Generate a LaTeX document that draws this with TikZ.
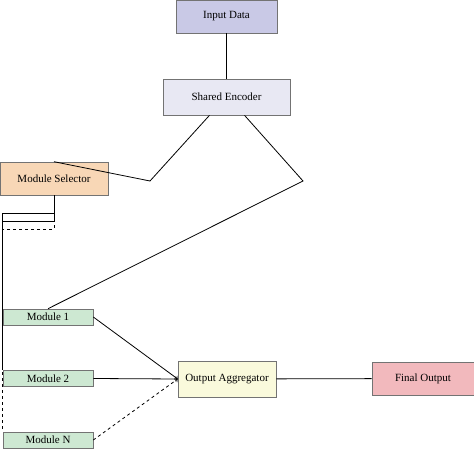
\documentclass[tikz,border=0pt]{standalone}
\usepackage{fontspec}
\setmainfont{Liberation Serif}
\usetikzlibrary{positioning}
\definecolor{inputblue}{HTML}{C9C9E6}
\definecolor{encgray}{HTML}{E8E8F3}
\definecolor{selpeach}{HTML}{F8D7B6}
\definecolor{modgreen}{HTML}{CDE8D2}
\definecolor{aggyellow}{HTML}{FAFADC}
\definecolor{finalpink}{HTML}{F2B9BD}
\begin{document}
\begin{tikzpicture}[x=1pt, y=-1pt, line width=0.8pt,
  every node/.style={font=\fontsize{11}{13}\selectfont},
  blk/.style={draw=black!55, line width=0.6pt, inner sep=0pt}]
\useasboundingbox (0,0) rectangle (474,449);

% Define the main blocks
\node[blk, fill=inputblue, minimum width=101pt, minimum height=33pt] (input) at (226.5, 16.5) {Input Data};
\node[blk, fill=encgray, minimum width=127pt, minimum height=36pt] (enc) at (226.5, 97) {Shared Encoder};
\node[blk, fill=selpeach, minimum width=108pt, minimum height=33pt] (sel) at (54, 178.5) {Module Selector};

% Modules
\node[blk, fill=modgreen, minimum width=90pt, minimum height=16pt] (mod1) at (48, 317) {Module 1};
\node[blk, fill=modgreen, minimum width=90pt, minimum height=16pt] (mod2) at (48, 378.5) {Module 2};
\node[blk, fill=modgreen, minimum width=90pt, minimum height=16pt] (modN) at (48, 440) {Module N};

\node[blk, fill=aggyellow, minimum width=98pt, minimum height=36pt] (agg) at (227, 379) {Output Aggregator};
\node[blk, fill=finalpink, minimum width=102pt, minimum height=33pt] (final) at (423, 378.5) {Final Output};

\coordinate (bendL) at (150, 181);
\coordinate (bendR) at (303, 181);

\draw (input) -- (enc);
\draw ([xshift=-17pt]enc.south) -- (bendL) -- (sel.north);
\draw ([xshift=18pt]enc.south) -- (bendR) -- (mod1.north);

% Selector to modules
\draw (sel.south) -- ++(0,18) -| (mod1.north west);
\draw (sel.south) -- ++(0,26) -| (mod2.north west);
\draw[dashed] (sel.south) -- ++(0,34) -| (modN.north west);

\draw[->] (mod1.east) -- (agg.west);
\draw[->] (mod2.east) -- (agg.west);
\draw[->, dashed] (modN.east) -- (agg.west);
\draw (agg) -- (final);

\end{tikzpicture}
\end{document}
